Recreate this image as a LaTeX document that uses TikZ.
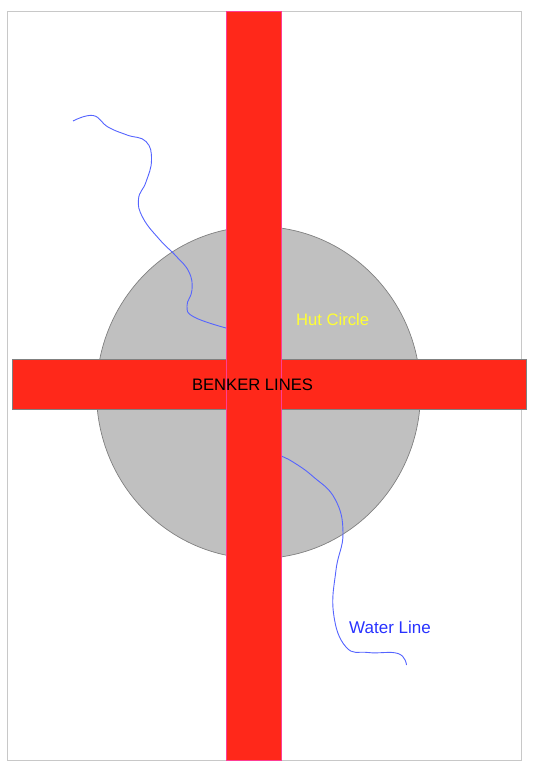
\documentclass[tikz,border=0pt]{standalone}
\usepackage{fontspec}
\setmainfont{Liberation Sans}
\usetikzlibrary{shapes.geometric}
\definecolor{barred}{RGB}{255,40,26}
\definecolor{barpink}{RGB}{255,60,150}
\definecolor{edgegray}{RGB}{128,128,128}
\definecolor{hutgray}{RGB}{192,192,192}
\definecolor{framegray}{RGB}{200,200,200}
\definecolor{hutyellow}{RGB}{255,255,51}
\definecolor{waterblue}{RGB}{40,50,255}
\definecolor{curveblue}{RGB}{85,100,255}
\tikzset{
  bar/.style={rectangle, fill=barred, inner sep=0pt, line width=0.8pt},
  label16/.style={inner sep=0pt, font=\fontsize{16.6}{19}\selectfont},
  waterpath/.style={draw=curveblue, line width=0.9pt}
}
\begin{document}
\begin{tikzpicture}[x=1pt,y=-1pt]
\useasboundingbox (0,0) rectangle (535,771);
% frame
\draw[framegray, line width=1pt] (7,11) rectangle (521,760);
% hut circle
\node[ellipse, draw=edgegray, fill=hutgray, line width=0.7pt, inner sep=0pt,
      minimum width=324pt, minimum height=332pt] (hut) at (258.5,392.5) {};
% water lines
\draw[waterpath] plot[smooth, tension=0.75] coordinates {(73,121) (93,115.5) (108,127) (127,135) (146,141.5) (151.5,160) (146,182) (138.5,199) (143,218) (160,240) (176,256) (189,272) (192,290) (187,306) (194,317) (226,328)};
\draw[waterpath] plot[smooth, tension=0.75] coordinates {(281,456) (293,462) (313,476.5) (335,499) (343,533) (336,570) (333.5,613) (346,647) (368,652.5) (398,653.5) (406.5,665)};
% horizontal bar
\node[bar, draw=edgegray, minimum width=514pt, minimum height=50pt] (hbar) at (269,384) {};
% vertical bar
\node[bar, draw=barpink, minimum width=55pt, minimum height=749pt] (vbar) at (253.5,385.5) {};
% labels
\node[label16, text=black] (benker) at (252.5,385) {BENKER LINES};
\node[label16, text=hutyellow, anchor=base west] (hutlbl) at (296,325.3) {Hut Circle};
\node[label16, text=waterblue, anchor=base west] (waterlbl) at (349,633.3) {\fontsize{17}{19}\selectfont Water Line};
\end{tikzpicture}
\end{document}
